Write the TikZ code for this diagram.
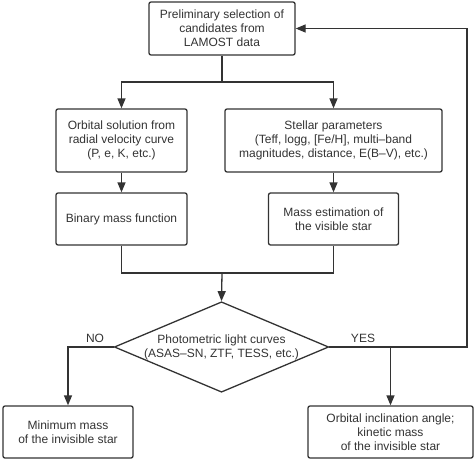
\documentclass[tikz,border=0pt]{standalone}
\usepackage{fontspec}
\setmainfont{Liberation Sans}
\usetikzlibrary{arrows.meta,shapes.geometric}
\definecolor{ink}{HTML}{333333}
\begin{document}
\begin{tikzpicture}[x=1pt,y=-1pt,
  every node/.style={text=ink,font=\fontsize{12}{14}\selectfont},
  boxstyle/.style={draw=ink,line width=1.3pt,rounded corners=2pt,align=center,inner sep=0pt},
  conn/.style={draw=ink,line width=1.3pt},
  arr/.style={conn,-{Triangle[length=10pt,width=8pt]}}]
\useasboundingbox (0,0) rectangle (474,460);
\node[boxstyle,minimum width=146pt,minimum height=53pt] (top) at (222,28.5) {Preliminary selection of\\candidates from\\LAMOST data};
\node[boxstyle,minimum width=131pt,minimum height=63pt] (L1) at (121.5,140.5) {Orbital solution from\\radial velocity curve\\(P, e, K, etc.)};
\node[boxstyle,minimum width=217pt,minimum height=63pt] (R1) at (333.5,140.5) {Stellar parameters\\(Teff, logg, [Fe/H], multi–band\\magnitudes, distance, E(B–V), etc.)};
\node[boxstyle,minimum width=131pt,minimum height=52pt] (L2) at (121.5,219) {Binary mass function};
\node[boxstyle,minimum width=130pt,minimum height=52pt] (R2) at (333.5,219) {Mass estimation of\\the visible star};
\node[draw=ink,line width=1.3pt,shape=diamond,aspect=2.37,inner sep=0pt,minimum width=213pt,minimum height=90pt,align=center] (dec) at (221.5,347) {Photometric light curves\\(ASAS–SN, ZTF, TESS, etc.)};
\node[boxstyle,minimum width=130pt,minimum height=52pt] (BL) at (68,432) {Minimum mass\\of the invisible star};
\node[boxstyle,minimum width=165pt,minimum height=52pt] (BR) at (390.5,432) {Orbital inclination angle;\\kinetic mass\\of the invisible star};
\node (no) at (95,338) {NO};
\node (yes) at (363,338) {YES};
\coordinate (split) at (222,82);
\coordinate (join) at (222,273);
\coordinate (c1) at (467,347);
\coordinate (yb) at (390.5,347);
\draw[conn] (top.south) -- (split);
\draw[arr] (split) -| (L1.north);
\draw[arr] (split) -| (R1.north);
\draw[arr] (L1.south) -- (L2.north);
\draw[arr] (R1.south) -- (R2.north);
\draw[conn] (L2.south) |- (join) -| (R2.south);
\draw[arr] (join) -- (dec.north);
\draw[arr] (dec.west) -| (BL.north);
\draw[arr] (dec.east) -- (c1) |- (top.east);
\draw[arr] (yb) -- (BR.north);
\end{tikzpicture}
\end{document}
